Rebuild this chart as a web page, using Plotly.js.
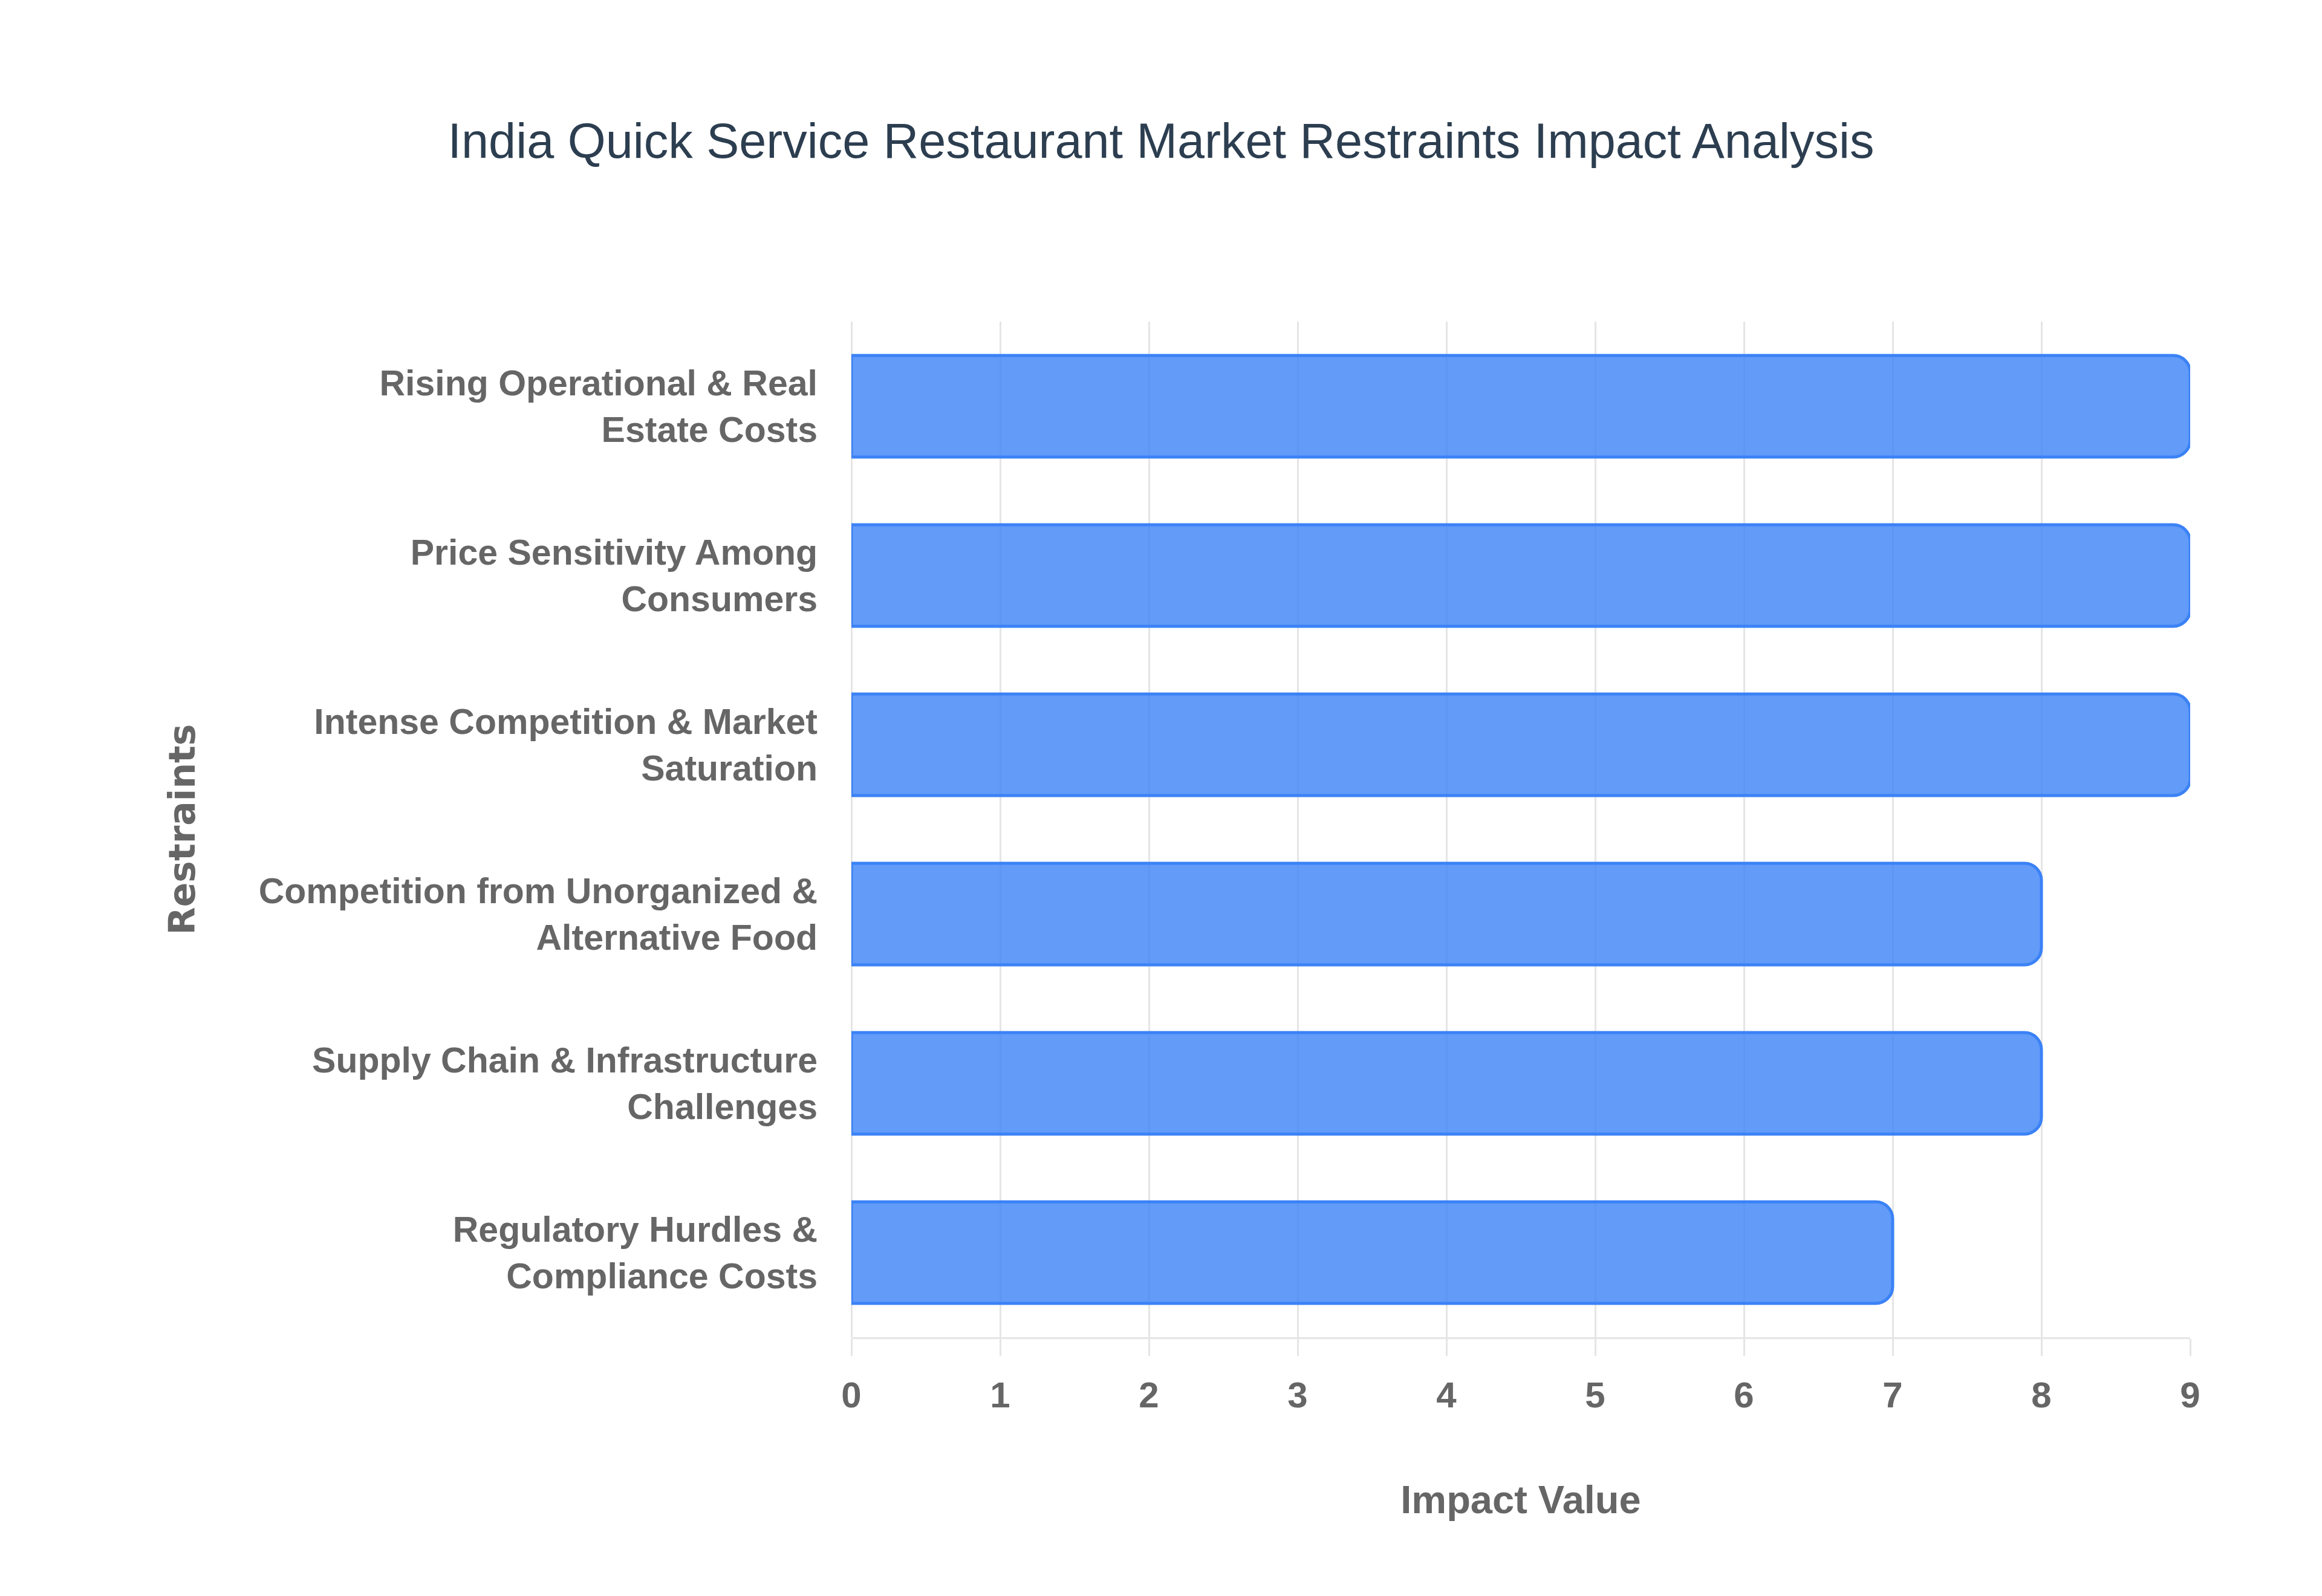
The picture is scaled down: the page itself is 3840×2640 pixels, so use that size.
<!DOCTYPE html>
<html>
<head>
<meta charset="utf-8">
<script src="https://cdn.plot.ly/plotly-3.0.1.min.js"></script>
<style>
  html, body { margin: 0; padding: 0; background: #fff; }
  #chart { width: 3840px; height: 2640px; }
</style>
</head>
<body>
<div id="chart"></div>
<script>
// restraints, listed top to bottom as they appear in the chart
const restraints = [
  'Rising Operational & Real Estate Costs',
  'Price Sensitivity Among Consumers',
  'Intense Competition & Market Saturation',
  'Competition from Unorganized & Alternative Food',
  'Supply Chain & Infrastructure Challenges',
  'Regulatory Hurdles & Compliance Costs'
];
const impactValues = [9, 9, 9, 8, 8, 7];
const impactTicks = [0, 1, 2, 3, 4, 5, 6, 7, 8, 9];

const GREY = '#666666';
const GRID = '#e5e5e5';
const SANS = 'Liberation Sans, Arial, Helvetica, sans-serif';

// greedy word wrap, lines up to `max` chars, joined with <br>
function wrap(label, max) {
  const lines = [];
  let line = '';
  for (const w of label.split(' ')) {
    if (line && (line + ' ' + w).length > max) { lines.push(line); line = w; }
    else line = line ? line + ' ' + w : w;
  }
  if (line) lines.push(line);
  return lines.join('<br>');
}

const trace = {
  type: 'bar',
  orientation: 'h',
  x: impactValues,
  y: restraints,
  marker: {
    color: 'rgba(59,130,246,0.8)',
    line: { color: '#3b82f6', width: 5 },
    cornerradius: 28
  },
  hoverinfo: 'x+y'
};

const layout = {
  width: 3840, height: 2640,
  paper_bgcolor: '#ffffff', plot_bgcolor: '#ffffff',
  margin: { l: 1408, r: 218, t: 532, b: 428 },
  bargap: 0.4,
  showlegend: false,
  title: {
    text: 'India Quick Service Restaurant Market Restraints Impact Analysis',
    font: { family: SANS, size: 81, color: '#2c3e50' },
    x: 0.5, xref: 'container', xanchor: 'center',
    y: 0.9117, yref: 'container', yanchor: 'middle'
  },
  xaxis: {
    range: [0, 9],
    tickmode: 'array', tickvals: impactTicks, ticktext: impactTicks.map(String),
    showgrid: true, gridcolor: GRID, gridwidth: 3,
    zeroline: true, zerolinecolor: GRID, zerolinewidth: 3,
    showline: true, linecolor: GRID, linewidth: 3,
    ticks: 'outside', ticklen: 28, tickwidth: 3, tickcolor: GRID,
    ticklabelstandoff: 13,
    tickfont: { family: SANS, size: 60, color: GREY, weight: 'bold' },
    title: {
      text: 'Impact Value', standoff: 118,
      font: { family: SANS, size: 65, color: GREY, weight: 'bold' }
    },
    fixedrange: true
  },
  yaxis: {
    type: 'category', autorange: 'reversed',
    tickmode: 'array', tickvals: restraints, ticktext: restraints.map(r => wrap(r, 30)),
    showgrid: false, zeroline: false, showline: false,
    ticks: '', ticklabelstandoff: 55,
    tickfont: { family: SANS, size: 59, color: GREY, weight: 'bold' },
    title: {
      text: 'Restraints', standoff: 85,
      font: { family: 'DejaVu Sans, sans-serif', size: 60, color: GREY, weight: 'bold' }
    },
    fixedrange: true
  }
};

Plotly.newPlot('chart', [trace], layout, { displayModeBar: false, staticPlot: true });
</script>
</body>
</html>
